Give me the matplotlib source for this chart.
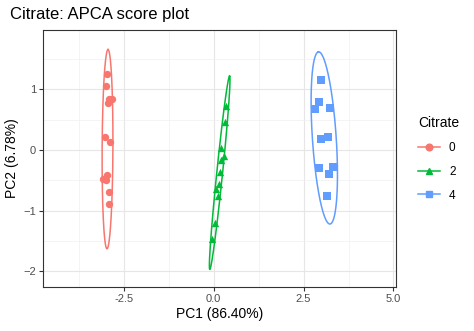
"""APCA score plot for citrate groups"""
import numpy as np
import matplotlib
matplotlib.use("Agg")
import matplotlib.pyplot as plt
from matplotlib.lines import Line2D

plt.rcParams['font.family'] = ['Liberation Sans', 'DejaVu Sans']

# scores
pc1_c0 = [-2.98, -3.00, -2.91, -2.84, -2.95, -3.03, -2.89, -2.98, -3.08, -3.01, -2.91, -2.92]
pc2_c0 = [1.26, 1.05, 0.85, 0.85, 0.78, 0.22, 0.14, -0.41, -0.48, -0.49, -0.69, -0.89]
pc1_c2 = [0.33, 0.30, 0.21, 0.28, 0.19, 0.17, 0.15, 0.06, 0.12, 0.03, -0.04]
pc2_c2 = [0.72, 0.47, 0.03, -0.10, -0.16, -0.37, -0.56, -0.64, -0.76, -1.21, -1.47]
pc1_c4 = [2.99, 2.94, 2.83, 3.23, 2.99, 3.17, 2.94, 3.31, 3.21, 3.15]
pc2_c4 = [1.15, 0.80, 0.67, 0.69, 0.19, 0.21, -0.29, -0.28, -0.40, -0.76]

# confidence ellipses: centre x, centre y, semi-major, semi-minor, angle (deg, data space)
ell_c0 = [-2.955, 0.015, 1.645, 0.15, 89.5]
ell_c2 = [0.165, -0.375, 1.62, 0.08, 80.2]
ell_c4 = [3.075, 0.20, 1.43, 0.33, 96.6]

groups = ["0", "2", "4"]
colors = ["#F8766D", "#00BA38", "#619CFF"]
markers = ["o", "^", "s"]

xs = [pc1_c0, pc1_c2, pc1_c4]
ys = [pc2_c0, pc2_c2, pc2_c4]
ells = [ell_c0, ell_c2, ell_c4]

fig = plt.figure(figsize=(4.74, 3.31), dpi=100)
ax = fig.add_axes([0.0907, 0.133, 0.744, 0.776])

t = np.linspace(0, 2 * np.pi, 300)
for x, y, e, col, mk in zip(xs, ys, ells, colors, markers):
    ax.scatter(x, y, color=col, marker=mk, s=28, linewidths=0, zorder=3)
    cx, cy, a, b, ang = e
    th = np.deg2rad(ang)
    ex = cx + a * np.cos(t) * np.cos(th) - b * np.sin(t) * np.sin(th)
    ey = cy + a * np.cos(t) * np.sin(th) + b * np.sin(t) * np.cos(th)
    ax.plot(ex, ey, color=col, lw=1.1, zorder=2)

ax.set_xlim(-4.75, 5.06)
ax.set_ylim(-2.26, 1.98)
ax.set_xticks([-2.5, 0, 2.5, 5.0])
ax.set_xticklabels(["-2.5", "0.0", "2.5", "5.0"])
ax.set_yticks([-2, -1, 0, 1])
ax.set_xticks([-3.75, -1.25, 1.25, 3.75], minor=True)
ax.set_yticks([-1.5, -0.5, 0.5, 1.5], minor=True)
ax.grid(which="major", color="#E6E6E6", lw=0.8)
ax.grid(which="minor", color="#F0F0F0", lw=0.5)
ax.set_axisbelow(True)
ax.tick_params(which="major", length=3, width=0.8, color="#333333",
               labelsize=8, labelcolor="#4D4D4D", pad=2)
ax.tick_params(which="minor", length=0)
for s in ax.spines.values():
    s.set_color("#333333")
    s.set_linewidth(0.8)

ax.set_xlabel("PC1 (86.40%)", fontsize=10, labelpad=2)
ax.set_ylabel("PC2 (6.78%)", fontsize=10, labelpad=3)
fig.text(0.021, 0.935, "Citrate: APCA score plot", fontsize=12, ha="left", va="bottom")

handles = [Line2D([0], [0], color=c, marker=m, markersize=4.8, lw=1.1)
           for c, m in zip(colors, markers)]
leg = fig.legend(handles, groups, title="Citrate", loc="center left",
                 bbox_to_anchor=(0.86, 0.52), frameon=False, fontsize=8.5,
                 title_fontsize=10, handlelength=1.8, labelspacing=1.0)
leg._legend_box.align = "left"

fig.savefig("out.png", dpi=100)
